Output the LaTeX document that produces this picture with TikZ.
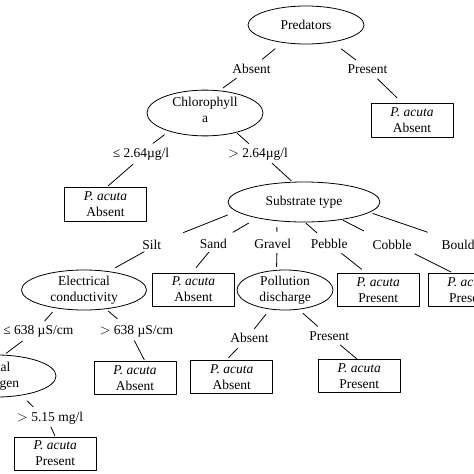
\documentclass[tikz,border=0pt]{standalone}
\usepackage{fontspec}
\setmainfont{Liberation Serif}
\usetikzlibrary{shapes.geometric}
\begin{document}
\begin{tikzpicture}[x=1pt,y=-1pt,line join=round,line cap=round,font=\fontsize{13.5}{16}\selectfont,
	cond/.style={draw,ellipse,inner sep=0pt,align=center,line width=.8pt},
	leaf/.style={draw,rectangle,inner sep=0pt,align=center,minimum width=82pt,minimum height=33pt,line width=.8pt},
	lbl/.style={inner sep=0pt},
	edge/.style={line width=.8pt}]
	\useasboundingbox (0,0) rectangle (474,474);
	\clip (0,0) rectangle (474,474);
	\node[cond,minimum width=116pt,minimum height=38pt] (pred) at (306,25) {Predators};
	\node[cond,minimum width=116pt,minimum height=40pt] (chl) at (205,113) {Chlorophyll\\a\rule[-7pt]{0pt}{0pt}};
	\node[cond,minimum width=152pt,minimum height=40pt] (sub) at (304,202) {Substrate type};
	\node[cond,minimum width=125pt,minimum height=38pt] (ec) at (84,290) {Electrical\\conductivity};
	\node[cond,minimum width=96pt,minimum height=38pt] (pd) at (285,290) {Pollution\\discharge};
	\node[cond,minimum width=119pt,minimum height=42pt] (tn) at (-3.5,376) {Total\\nitrogen};
	\node[leaf,minimum height=34pt] (boxR) at (412,120) {\textit{P. acuta}\\Absent};
	\node[leaf,minimum height=34pt] (boxL) at (105.5,204) {\textit{P. acuta}\\Absent};
	\node[leaf] (boxSand) at (193.5,289.5) {\textit{P. acuta}\\Absent};
	\node[leaf] (boxPeb) at (378.3,290.3) {\textit{P. acuta}\\Present};
	\node[leaf] (boxCob) at (469,290.3) {\textit{P. acuta}\\Present};
	\node[leaf] (box638) at (135,377.7) {\textit{P. acuta}\\Absent};
	\node[leaf] (boxPDA) at (231.7,376.7) {\textit{P. acuta}\\Absent};
	\node[leaf] (boxPDP) at (359.2,376) {\textit{P. acuta}\\Present};
	\node[leaf] (boxTN) at (55.3,453.5) {\textit{P. acuta}\\Present};
	\node[lbl] (absA) at (251.5,69) {Absent};
	\node[lbl] (preA) at (367.5,69.5) {Present};
	\node[lbl] (le264) at (141,154) {≤ 2.64µg/l};
	\node[lbl] (gt264) at (258,154) {$>$ 2.64µg/l};
	\node[lbl] (silt) at (151.7,244.7) {Silt};
	\node[lbl] (sand) at (213.3,243.7) {Sand};
	\node[lbl] (gravel) at (272.7,244.2) {Gravel};
	\node[lbl] (pebble) at (329.3,244) {Pebble};
	\node[lbl] (cobble) at (392.2,244.5) {Cobble};
	\node[lbl] (boulder) at (463.4,244.5) {Boulder};
	\node[lbl] (le638) at (38.3,331.3) {≤ 638 µS/cm};
	\node[lbl] (gt638) at (136.3,331.7) {$>$ 638 µS/cm};
	\node[lbl] (gt515) at (50,418.7) {$>$ 5.15 mg/l};
	\node[lbl] (absB) at (249.5,338) {Absent};
	\node[lbl] (preB) at (329.3,335.8) {Present};
	% predators
	\draw[edge,shorten <=9.4pt,shorten >=7.6pt] (pred.217)--(absA.45);
	\draw[edge,shorten <=7.2pt,shorten >=4.2pt] (absA.208)--(chl.57);
	\draw[edge,shorten <=10.9pt,shorten >=8pt] (pred.327)--(preA.138);
	\draw[edge,shorten <=6.6pt,shorten >=6.9pt] (preA.318)--(boxR.120);
	% chlorophyll a
	\draw[edge,shorten <=5.7pt,shorten >=7.1pt] (chl.207)--(le264.45);
	\draw[edge,shorten <=5.7pt,shorten >=1pt] (le264.241)--(boxL.84);
	\draw[edge,shorten <=1pt,shorten >=6.2pt] (chl.328)--(gt264.126);
	\draw[edge,shorten <=4pt,shorten >=1.4pt] (gt264.330)--(sub.120);
	% substrate type
	\draw[edge,shorten <=9.5pt,shorten >=23.9pt] (sub.188)--(silt.19);
	\draw[edge,shorten <=4.3pt,shorten >=7.2pt] (silt.233)--(ec.37);
	\draw[edge,shorten <=9.9pt,shorten >=12.8pt] (sub.199)--(sand.30);
	\draw[edge,shorten <=4.6pt,shorten >=6.5pt] (sand.252)--(boxSand.95);
	\draw[edge,shorten <=6.3pt,shorten >=7.4pt] (sub.215)--([xshift=4.3pt]gravel.north);
	\draw[edge,shorten <=4.2pt,shorten >=3.3pt] ([xshift=4.3pt]gravel.south)--(pd.113);
	\draw[edge,shorten <=1pt,shorten >=9.5pt] (sub.273)--(pebble.137);
	\draw[edge,shorten <=7.3pt,shorten >=6.7pt] (pebble.323)--(boxPeb.124);
	\draw[edge,shorten <=1.2pt,shorten >=18.8pt] (sub.335)--(cobble.157);
	\draw[edge,shorten <=10pt,shorten >=3.4pt] (cobble.340)--(boxCob.132);
	\draw[edge,shorten <=3.3pt,shorten >=22.8pt] (sub.351)--(boulder.161);
	% electrical conductivity
	\draw[edge,shorten <=5.2pt,shorten >=5.5pt] (ec.213)--(le638.66);
	\draw[edge,shorten <=6.2pt,shorten >=2.3pt] (le638.209)--(tn.70);
	\draw[edge,shorten <=3.2pt,shorten >=10.4pt] (ec.319)--(gt638.151);
	\draw[edge,shorten <=3.4pt,shorten >=1.2pt] (gt638.241)--(box638.60);
	\draw[edge,shorten <=7.8pt,shorten >=7.9pt] (tn.322)--(gt515.150);
	\draw[edge,shorten <=2pt,shorten >=1pt] (gt515.south)--(boxTN.north);
	% pollution discharge
	\draw[edge,shorten <=6.2pt,shorten >=5.6pt] (pd.232)--(absB.73);
	\draw[edge,shorten <=7.5pt,shorten >=3.1pt] (absB.216)--(boxPDA.107);
	\draw[edge,shorten <=5.7pt,shorten >=7.3pt] (pd.305)--(preB.143);
	\draw[edge,shorten <=6.8pt,shorten >=.5pt] (preB.320)--(boxPDP.97);
\end{tikzpicture}
\end{document}
